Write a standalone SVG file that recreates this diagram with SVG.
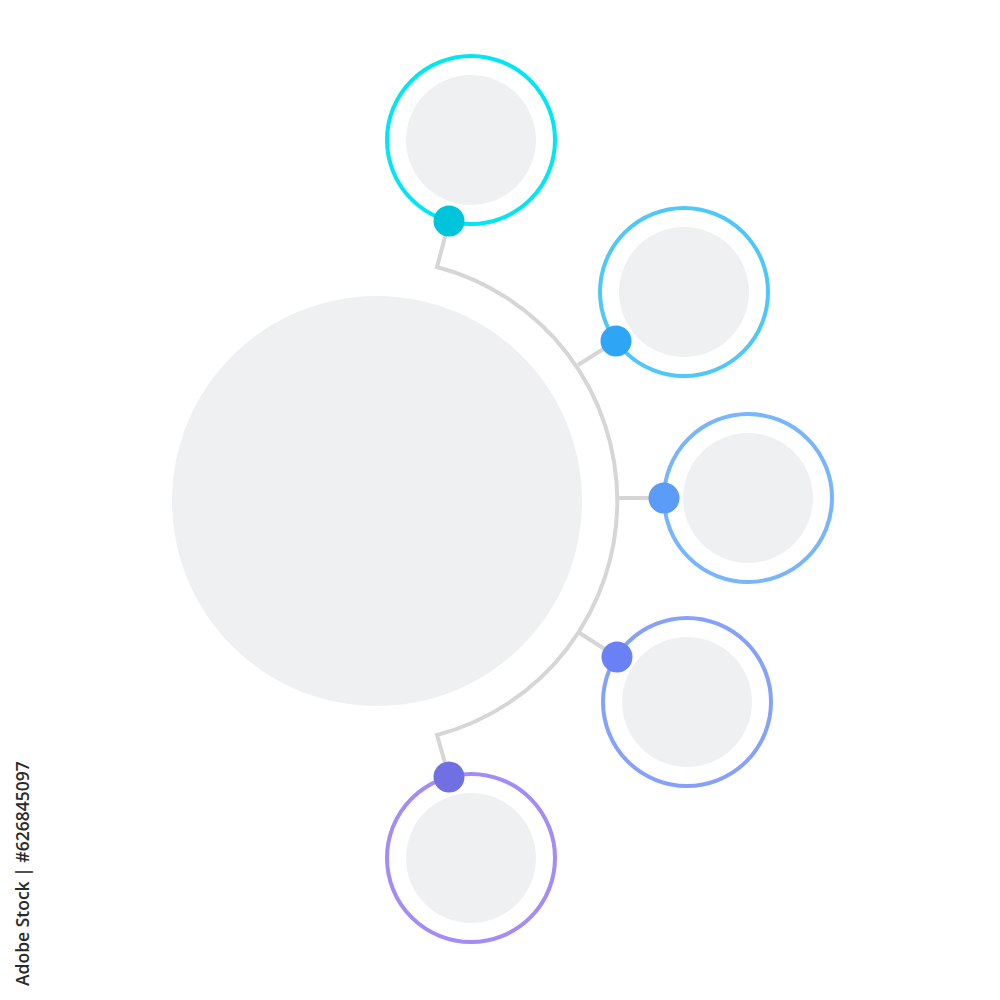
<svg xmlns="http://www.w3.org/2000/svg" width="1000" height="1000" viewBox="0 0 1000 1000">
  <defs>
    <style>
      .ring { fill: #ffffff; stroke-width: 4; }
      .inner { fill: #eff0f2; }
      .conn { fill: none; stroke: #d6d6d6; stroke-width: 4; stroke-linejoin: miter; }
      .id { font-family: "Open Sans", "Noto Sans", sans-serif; font-size: 17.5px; font-weight: 600; fill: #2a2a2a; }
    </style>
  </defs>
  <rect width="1000" height="1000" fill="#ffffff"/>

  <g id="hub">
    <circle cx="377" cy="501" r="205" fill="#eff0f2"/>
  </g>

  <g id="connectors">
    <path class="conn" d="M449,222 L437,267 A242,242 0 0 1 437,735 L449,777"/>
    <line class="conn" x1="578" y1="365" x2="616" y2="341"/>
    <line class="conn" x1="619" y1="498" x2="664" y2="498"/>
    <line class="conn" x1="578" y1="632" x2="617" y2="657"/>
  </g>

  <g id="node1">
    <circle class="ring" cx="471" cy="140" r="84" stroke="#00e6f2"/>
    <circle class="inner" cx="471" cy="140" r="65"/>
    <circle cx="449" cy="221" r="15.5" fill="#00c3dc"/>
  </g>
  <g id="node2">
    <circle class="ring" cx="684" cy="292" r="84" stroke="#4fc7f9"/>
    <circle class="inner" cx="684" cy="292" r="65"/>
    <circle cx="616" cy="341" r="15.5" fill="#2ea6f5"/>
  </g>
  <g id="node3">
    <circle class="ring" cx="748" cy="498" r="84" stroke="#77b5fc"/>
    <circle class="inner" cx="748" cy="498" r="65"/>
    <circle cx="664" cy="498" r="15.5" fill="#5a9cf8"/>
  </g>
  <g id="node4">
    <circle class="ring" cx="687" cy="702" r="84" stroke="#86a1f9"/>
    <circle class="inner" cx="687" cy="702" r="65"/>
    <circle cx="617" cy="657" r="15.5" fill="#6a80f5"/>
  </g>
  <g id="node5">
    <circle class="ring" cx="471" cy="858" r="84" stroke="#a38cf5"/>
    <circle class="inner" cx="471" cy="858" r="65"/>
    <circle cx="449" cy="777" r="15.5" fill="#7070e2"/>
  </g>

  <text class="id" transform="translate(29,986) rotate(-90)">Adobe Stock | #626845097</text>
</svg>
